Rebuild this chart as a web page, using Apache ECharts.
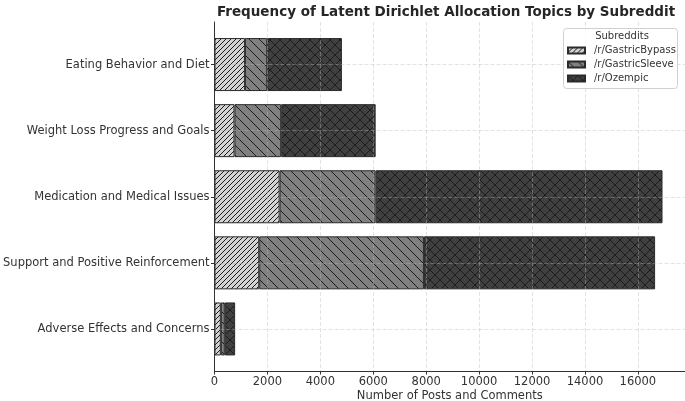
<!DOCTYPE html>
<html>
<head>
<meta charset="utf-8">
<script src="https://cdn.jsdelivr.net/npm/echarts@6/dist/echarts.min.js"></script>
<style>
  html, body { margin: 0; padding: 0; background: #fff; }
  #chart { width: 685px; height: 401px; }
</style>
</head>
<body>
<div id="chart"></div>
<script>
// values
var categories = [
  'Eating Behavior and Diet',
  'Weight Loss Progress and Goals',
  'Medication and Medical Issues',
  'Support and Positive Reinforcement',
  'Adverse Effects and Concerns'
];
var gastricBypass = [1150, 755, 2460, 1690, 240];
var gastricSleeve = [840, 1765, 3630, 6225, 150];
var ozempic = [2825, 3570, 10840, 8735, 390];
var xTicks = [0, 2000, 4000, 6000, 8000, 10000, 12000, 14000, 16000];

var FONT = 'DejaVu Sans';
var TEXT = '#333333';
var X_MAX = 17780;
var GRID_LINE = { color: 'rgba(185,185,185,0.5)', width: 0.8, type: [4, 2] };

// hatch fills like matplotlib's '//', '\\' and 'x'
function hatch(bg, dirs, s) {
  var c = document.createElement('canvas');
  c.width = s; c.height = s;
  var g = c.getContext('2d');
  g.fillStyle = bg;
  g.fillRect(0, 0, s, s);
  g.strokeStyle = '#1c1c1c';
  g.lineWidth = 1;
  dirs.forEach(function (d) {
    for (var k = -s; k <= s; k += s) {
      g.beginPath();
      if (d === '/') { g.moveTo(k, s); g.lineTo(k + s, 0); }
      else { g.moveTo(k, 0); g.lineTo(k + s, s); }
      g.stroke();
    }
  });
  return { image: c, repeat: 'repeat' };
}

var fillBypass = hatch('#d3d3d3', ['/'], 5);
var fillSleeve = hatch('#808080', ['\\'], 10);
var fillOzempic = hatch('#404040', ['/', '\\'], 10);

var chart = echarts.init(document.getElementById('chart'), null, { renderer: 'canvas' });

function barSeries(name, data, fill) {
  return {
    name: name,
    type: 'bar',
    stack: 'total',
    xAxisIndex: 1,
    yAxisIndex: 1,
    barWidth: 53,
    data: data,
    itemStyle: { color: fill, borderColor: '#2a2a2a', borderWidth: 1 },
    emphasis: { disabled: true }
  };
}

var series = [
  barSeries('/r/GastricBypass', gastricBypass, fillBypass),
  barSeries('/r/GastricSleeve', gastricSleeve, fillSleeve),
  barSeries('/r/Ozempic', ozempic, fillOzempic)
];
// horizontal grid lines at the category centres
series[2].markLine = {
  silent: true,
  symbol: 'none',
  label: { show: false },
  lineStyle: GRID_LINE,
  data: categories.map(function (c) { return { yAxis: c }; })
};

chart.setOption({
  animation: false,
  backgroundColor: '#ffffff',
  title: {
    text: 'Frequency of Latent Dirichlet Allocation Topics by Subreddit',
    left: 441,
    top: 0,
    textAlign: 'center',
    textStyle: { fontFamily: FONT, fontSize: 13.5, fontWeight: 'bold', color: '#262626' }
  },
  legend: {
    z: 10,
    orient: 'vertical',
    left: 567,
    top: 45.5,
    padding: 0,
    itemWidth: 17,
    itemHeight: 6,
    itemGap: 4,
    icon: 'rect',
    selectedMode: false,
    textStyle: { fontFamily: FONT, fontSize: 10, color: TEXT, padding: [0, 0, 0, 4] },
    data: ['/r/GastricBypass', '/r/GastricSleeve', '/r/Ozempic']
  },
  graphic: [
    {
      type: 'rect',
      z: 8,
      shape: { x: 563.5, y: 28.5, width: 114, height: 60, r: 3 },
      style: { fill: 'rgba(255,255,255,0.8)', stroke: '#d0d0d0', lineWidth: 1 }
    },
    {
      type: 'text',
      z: 9,
      x: 622,
      y: 36.5,
      style: { text: 'Subreddits', fontFamily: FONT, fontSize: 10, fill: TEXT, align: 'center', verticalAlign: 'middle' }
    }
  ],
  grid: [
    { left: 214.5, right: 0, top: 22, height: 349, outerBoundsMode: 'none' },
    { left: 214.5, right: 0, top: 31.5, height: 330.5, outerBoundsMode: 'none' }
  ],
  xAxis: [
    {
      type: 'value',
      gridIndex: 0,
      z: 5,
      min: xTicks[0],
      max: X_MAX,
      interval: xTicks[1] - xTicks[0],
      name: 'Number of Posts and Comments',
      nameLocation: 'middle',
      nameGap: 19,
      nameMoveOverlap: false,
      nameTextStyle: { fontFamily: FONT, fontSize: 11.5, color: TEXT },
      axisLine: { show: true, lineStyle: { color: '#333', width: 1 } },
      axisTick: { show: true, length: 3.5, lineStyle: { color: '#333' } },
      axisLabel: {
        fontFamily: FONT, fontSize: 11.5, color: TEXT, margin: 5, showMaxLabel: false,
        formatter: function (v) { return String(v); }
      },
      splitLine: { show: true, lineStyle: GRID_LINE }
    },
    {
      type: 'value',
      gridIndex: 1,
      min: 0,
      max: X_MAX,
      show: false
    }
  ],
  yAxis: [
    {
      type: 'value',
      gridIndex: 0,
      z: 5,
      min: 0,
      max: 1,
      axisLine: { show: true, lineStyle: { color: '#333', width: 1 } },
      axisTick: { show: false },
      axisLabel: { show: false },
      splitLine: { show: false }
    },
    {
      type: 'category',
      gridIndex: 1,
      inverse: true,
      data: categories,
      axisLine: { show: false },
      axisTick: { show: true, alignWithLabel: true, length: 3.5, lineStyle: { color: '#333' } },
      axisLabel: { fontFamily: FONT, fontSize: 11.5, color: TEXT, margin: 5 },
      splitLine: { show: false }
    }
  ],
  series: series
});
</script>
</body>
</html>
